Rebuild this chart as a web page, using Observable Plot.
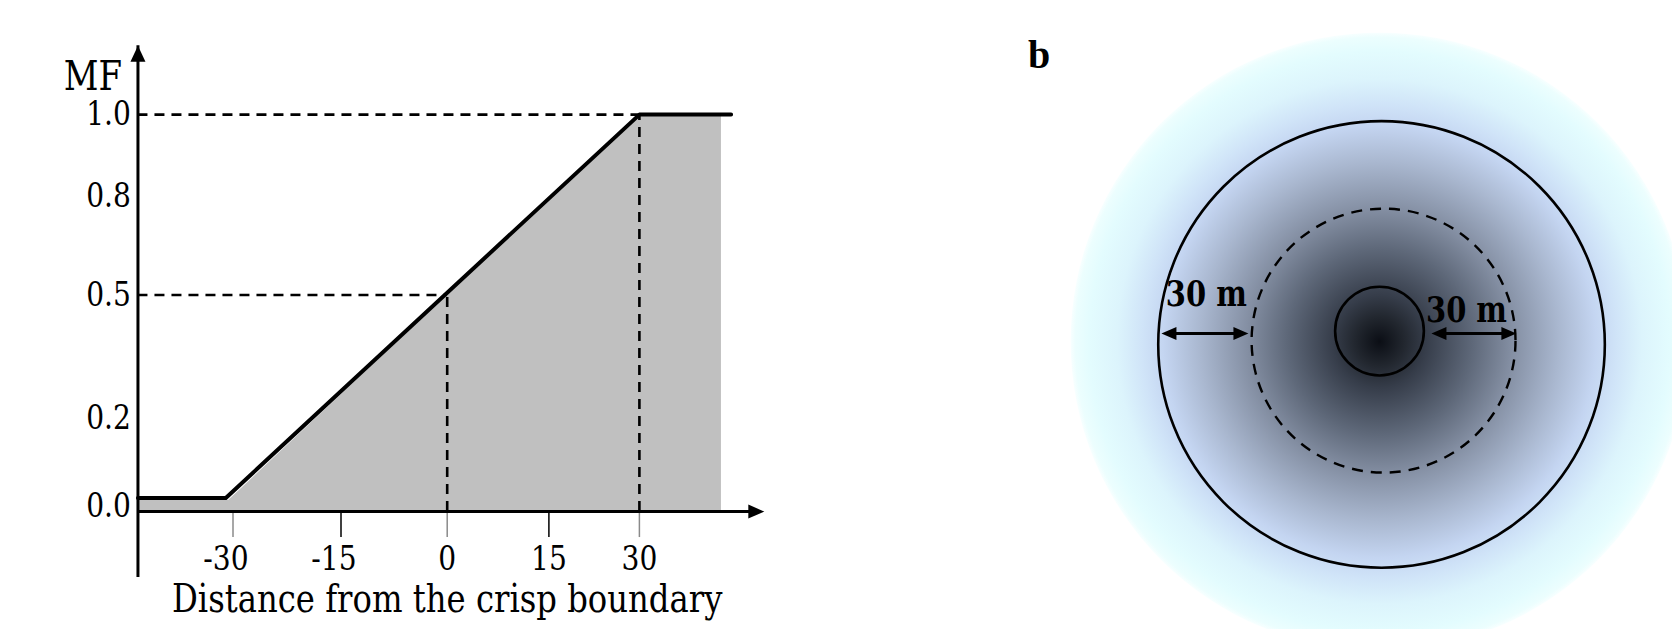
<!DOCTYPE html>
<html><head><meta charset="utf-8">
<script src="https://cdn.jsdelivr.net/npm/d3@7"></script>
<script src="https://cdn.jsdelivr.net/npm/@observablehq/plot@0.6"></script>
<style>
html,body{margin:0;padding:0;background:#fff;overflow:hidden;width:1672px;height:629px;}
#a{position:absolute;left:0;top:0;}
#b{position:absolute;left:1000px;top:0;}
#a text,#b text{font-stretch:condensed;}
#blabel{position:absolute;left:1028px;top:35px;font:bold 40px "Liberation Serif","DejaVu Serif",serif;line-height:1;}
</style></head><body>
<div id="a"></div><div id="b"></div><div id="blabel">b</div>
<script>
// ---------- Panel a data ----------
const xTicks = [-30, -15, 0, 15, 30];
const xTickLabels = ["-30", "-15", "0", "15", "30"];
const xTickColors = ["#8a8a8a", "#000", "#8a8a8a", "#000", "#8a8a8a"];
const yTicks = [0, 0.2, 0.5, 0.8, 1.0];
const yTickLabels = ["0.0", "0.2", "0.5", "0.8", "1.0"];
// membership function (as drawn)
const mfX = [-43.2, -31, 30, 45.2];
const mfY = [0.019, 0.019, 1, 1];
// shaded area under the function
const fillX = [-43.2, -30.6, 30, 43.6];
const fillY = [0.013, 0.013, 1, 1];
// dashed guides
const guideX = [0, 30];
const guideMF = [0.5, 1.0];
// axes extents
const xAxisMin = -43.2, xAxisMax = 50.7;
const yFloor = -0.012, yAxisMin = -0.139, yAxisMax = 1.169;
const tickBottom = -0.071;
const xTickLabelY = -0.121;
const mfLabelY = 1.093;
const titleY = -0.212;
const yLabel = "MF";
const xTitle = "Distance from the crisp boundary";

// ---------- Panel b data (metres) ----------
const ringR = [15.3, 45.5, 77];
const ringCx = [0, 1.4, 0.7];
const ringCy = [3.6, 0.3, -1];
const ringDashed = [false, true, false];
const haloR = 106.5;
const arrowX1 = [-75.2, 17.9];
const arrowX2 = [-45.2, 47.2];
const arrowY = [2.8, 2.8];
const distLabels = ["30 m", "30 m"];
const distLabelX = [-59.7, 30];
const distLabelY = [16, 10.7];

// ---------- styles / layout ----------
const serif = "'DejaVu Serif Condensed','DejaVu Serif',serif";
// drawn (non-uniform) placement of the hand-made axes of panel a
const xMap = d3.scaleLinear().domain([-30, -15, 0, 15, 30]).range([232.5, 340.5, 446.7, 548.4, 638.9]);
const yMap = d3.scaleLinear().domain([0, 0.2, 0.5, 0.8, 1.0]).range([505.8, 417.8, 294.5, 195.7, 114.1]);
const headR = {draw(c){c.moveTo(0,0);c.lineTo(-16,-7);c.lineTo(-16,7);c.closePath();}};
const headL = {draw(c){c.moveTo(0,0);c.lineTo(15,-6.5);c.lineTo(15,6.5);c.closePath();}};
const headR2 = {draw(c){c.moveTo(0,0);c.lineTo(-15,-6.5);c.lineTo(-15,6.5);c.closePath();}};
const headU = {draw(c){c.moveTo(0,0);c.lineTo(-7.5,16);c.lineTo(7.5,16);c.closePath();}};
const gradStops = [
  [0, "#0b0e15"], [0.08, "#22272f"], [0.15, "#363d4a"], [0.3, "#5e6879"],
  [0.43, "#848fa3"], [0.58, "#a9b7cf"], [0.7, "#c4d5f1"], [0.77, "#d0e4f8"],
  [0.85, "#dcf4fc"], [0.94, "#e3fcfe"], [0.985, "#ecfefe"], [1, "#f8ffff"]
];
const textScaleX = 0.92;
function condense(svg, sx) {
  svg.querySelectorAll("text").forEach(t => {
    const tr = t.getAttribute("transform");
    if (tr) t.setAttribute("transform", tr + ` scale(${sx},1)`);
    else {
      const x = +t.getAttribute("x") || 0, y = +t.getAttribute("y") || 0;
      t.removeAttribute("x"); t.removeAttribute("y");
      t.setAttribute("transform", `translate(${x},${y}) scale(${sx},1)`);
    }
  });
}

// ---------- Panel a ----------
const line = mfX.map((x, i) => ({x, y: mfY[i]}));
const area = fillX.map((x, i) => ({x, y: fillY[i]}));
const guides = guideX.map((x, i) => ({x, y: guideMF[i]}));
const xt = xTicks.map((x, i) => ({x, label: xTickLabels[i], color: xTickColors[i]}));
const yt = yTicks.map((y, i) => ({y, label: yTickLabels[i]}));

const plotA = Plot.plot({
  width: 800, height: 629, margin: 0,
  x: {type: "linear", domain: [0, 800], range: [0, 800], transform: xMap, axis: null},
  y: {type: "linear", domain: [0, 629], range: [0, 629], transform: yMap, axis: null},
  marks: [
    Plot.areaY(area, {x: "x", y1: yFloor, y2: "y", fill: "#c0c0c0"}),
    Plot.ruleY(guides, {y: "y", x1: xAxisMin, x2: "x", stroke: "#000", strokeWidth: 2.6, strokeDasharray: "10,7"}),
    Plot.ruleX(guides, {x: "x", y1: yFloor, y2: "y", stroke: "#000", strokeWidth: 2.6, strokeDasharray: "10,7"}),
    Plot.ruleX(xt, {x: "x", y1: yFloor, y2: tickBottom, stroke: "color", strokeWidth: 1.5}),
    Plot.line(line, {x: "x", y: "y", stroke: "#000", strokeWidth: 4}),
    Plot.ruleY([yFloor], {x1: xAxisMin, x2: xAxisMax, stroke: "#000", strokeWidth: 3, insetRight: 10}),
    Plot.ruleX([xAxisMin], {y1: yAxisMin, y2: yAxisMax, stroke: "#000", strokeWidth: 3, insetTop: 10}),
    Plot.dot([{x: xAxisMax, y: yFloor}], {x: "x", y: "y", symbol: headR, fill: "#000", stroke: "none"}),
    Plot.dot([{x: xAxisMin, y: yAxisMax}], {x: "x", y: "y", symbol: headU, fill: "#000", stroke: "none"}),
    Plot.text(yt, {x: xAxisMin, y: "y", text: "label", textAnchor: "end", dx: -7, fontSize: 34, fontFamily: serif, fill: "#000"}),
    Plot.text(xt.filter(d => d.x < 0), {x: "x", y: xTickLabelY, text: "label", dx: -7, fontSize: 34, fontFamily: serif, fill: "#000"}),
    Plot.text(xt.filter(d => d.x >= 0), {x: "x", y: xTickLabelY, text: "label", fontSize: 34, fontFamily: serif, fill: "#000"}),
    Plot.text([yLabel], {x: xAxisMin, y: mfLabelY, text: d => d, textAnchor: "end", dx: -16, fontSize: 41, fontFamily: serif, fill: "#000"}),
    Plot.text([xTitle], {x: 0, y: titleY, text: d => d, fontSize: 39, fontFamily: serif, fill: "#000"})
  ]
});
condense(plotA, textScaleX);
document.getElementById("a").append(plotA);

// ---------- Panel b ----------
const rings = ringR.map((r, i) => ({r, x: ringCx[i], y: ringCy[i], dashed: ringDashed[i]}));
const arrows = arrowX1.map((x1, i) => ({x1, x2: arrowX2[i], y: arrowY[i]}));
const dl = distLabels.map((t, i) => ({t, x: distLabelX[i], y: distLabelY[i]}));

const plotB = Plot.plot({
  width: 672, height: 629, margin: 0,
  x: {domain: [-100, 100], range: [89, 669], axis: null},
  y: {domain: [-100, 100], range: [631, 51], axis: null},
  r: {type: "linear", domain: [0, 100], range: [0, 290]},
  marks: [
    Plot.dot([{r: haloR, x: 0, y: 0}], {x: "x", y: "y", r: "r", fill: "url(#bgrad)", stroke: "none"}),
    Plot.dot(rings.filter(d => !d.dashed), {x: "x", y: "y", r: "r", fill: "none", stroke: "#000", strokeWidth: 2.6}),
    Plot.dot(rings.filter(d => d.dashed), {x: "x", y: "y", r: "r", fill: "none", stroke: "#000", strokeWidth: 2.4, strokeDasharray: "11,8"}),
    Plot.ruleY(arrows, {y: "y", x1: "x1", x2: "x2", stroke: "#000", strokeWidth: 3, insetLeft: 8, insetRight: 8}),
    Plot.dot(arrows, {x: "x1", y: "y", symbol: headL, fill: "#000", stroke: "none"}),
    Plot.dot(arrows, {x: "x2", y: "y", symbol: headR2, fill: "#000", stroke: "none"}),
    Plot.text(dl, {x: "x", y: "y", text: "t", fontSize: 35, fontWeight: "bold", fontFamily: serif, fill: "#000"})
  ]
});
condense(plotB, textScaleX);
const defs = d3.select(plotB).insert("defs", ":first-child");
const grad = defs.append("radialGradient").attr("id", "bgrad");
gradStops.forEach(([o, c]) => grad.append("stop").attr("offset", o).attr("stop-color", c));
document.getElementById("b").append(plotB);
</script>
</body></html>
